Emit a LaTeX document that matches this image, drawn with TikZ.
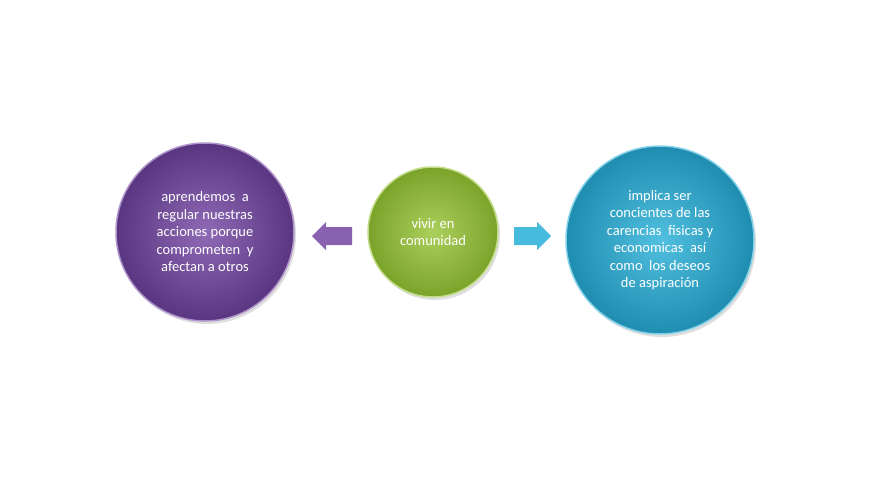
\documentclass[tikz,border=0pt]{standalone}
\usepackage{fontspec}
\setmainfont{Carlito}
\usetikzlibrary{shadows}
\definecolor{pur}{HTML}{7B4FA8}
\definecolor{purd}{HTML}{5A3580}
\definecolor{grn}{HTML}{9DC73F}
\definecolor{grnd}{HTML}{7BA32A}
\definecolor{cya}{HTML}{33B4DA}
\definecolor{cyad}{HTML}{1F8DB0}
\tikzset{
  circ/.style={circle,draw=#1!60!white,line width=1.5pt,text=white,align=center,font=\fontsize{14.5}{17.5}\selectfont,inner sep=0pt,drop shadow={opacity=0.25,shadow xshift=2pt,shadow yshift=-3pt}},
}
\begin{document}
\begin{tikzpicture}[x=1pt,y=-1pt]
\useasboundingbox[fill=white] (0,0) rectangle (874,501);
\node[circ=pur,minimum size=178pt,inner color=pur!85!white,outer color=purd] (L) at (205,232) {aprendemos\ \ a\\regular nuestras\\acciones porque\\comprometen\ \ y\\afectan a otros};
\node[circ=grn,minimum size=130pt,inner color=grn!85!white,outer color=grnd] (C) at (433,232) {vivir en\\comunidad};
\node[circ=cya,minimum size=188pt,inner color=cya!85!white,outer color=cyad] (R) at (660,240) {implica ser\\concientes de las\\carencias\ \ fisicas y\\economicas\ \ así\\como\ \ los deseos\\de aspiración};
\coordinate (a1) at (332,236);
\coordinate (a2) at (532,236);
\fill[pur!90!white] ([xshift=-20]a1) -- ([xshift=-6,yshift=-14]a1) -- ([xshift=-6,yshift=-9]a1) -- ([xshift=20,yshift=-9]a1) -- ([xshift=20,yshift=9]a1) -- ([xshift=-6,yshift=9]a1) -- ([xshift=-6,yshift=14]a1) -- cycle;
\fill[cya!90!white] ([xshift=19]a2) -- ([xshift=5,yshift=-14]a2) -- ([xshift=5,yshift=-9]a2) -- ([xshift=-18,yshift=-9]a2) -- ([xshift=-18,yshift=9]a2) -- ([xshift=5,yshift=9]a2) -- ([xshift=5,yshift=14]a2) -- cycle;
\end{tikzpicture}
\end{document}
